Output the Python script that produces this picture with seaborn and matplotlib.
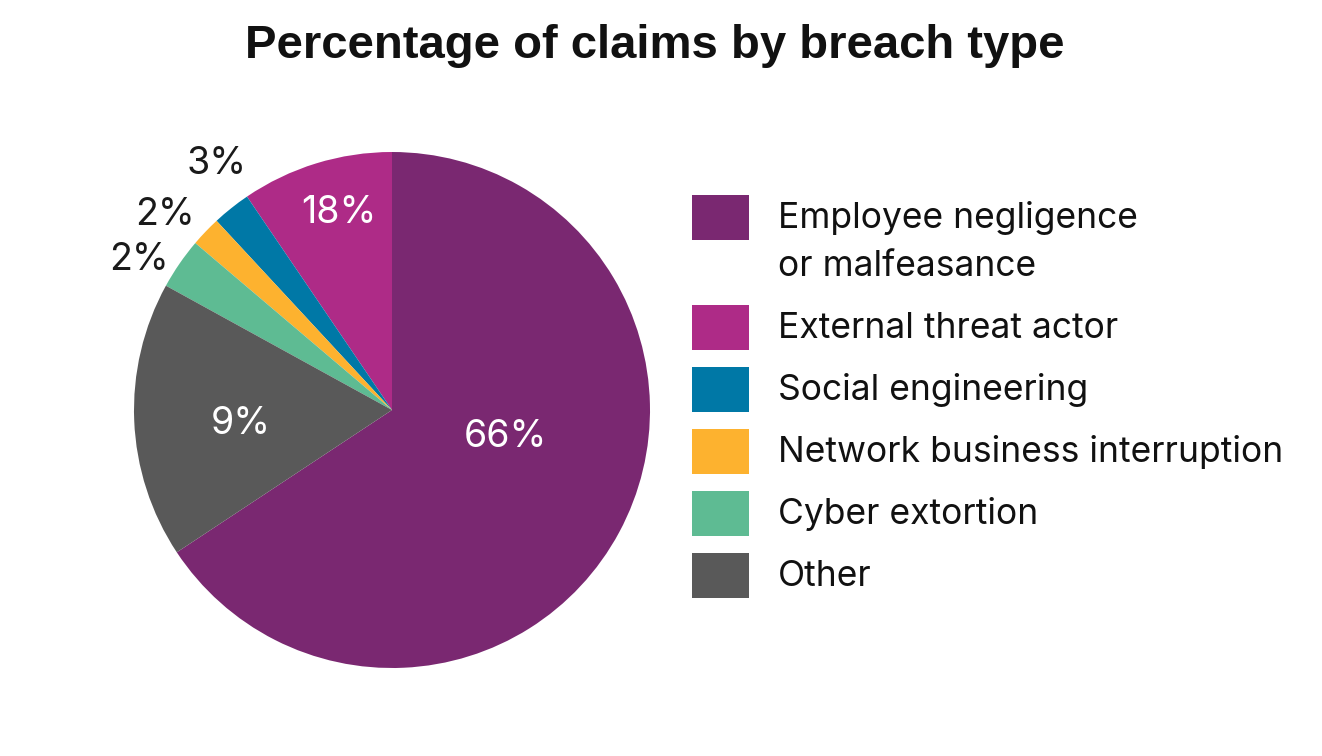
import numpy as np
import matplotlib
matplotlib.use("Agg")
import matplotlib.pyplot as plt
from matplotlib.patches import Rectangle
import seaborn as sns

sns.set_theme(style="white")
plt.rcParams['font.family'] = ['Inter', 'DejaVu Sans']

categories = ["Employee negligence\nor malfeasance", "External threat actor",
              "Social engineering", "Network business interruption",
              "Cyber extortion", "Other"]
# slice sizes as drawn in the picture
shares = [65.7, 9.5, 2.4, 1.9, 3.2, 17.3]
# labels as printed in the picture
pct_labels = ["66%", "18%", "3%", "2%", "2%", "9%"]
colors = ["#7A2871", "#AE2B87", "#0078A6", "#FDB22F", "#5EBB93", "#595959"]

# label layout: radius (fraction of pie radius), angle nudge (deg), text colour
label_r = [0.45, 0.79, 1.17, 1.16, 1.14, 0.59]
label_nudge = [15, -2, -3, 3, 4, 3]
label_col = ["white", "white", "#1a1a1a", "#1a1a1a", "#1a1a1a", "white"]

W, H = 1322, 756
fig = plt.figure(figsize=(W / 100, H / 100), dpi=100)
ax = fig.add_axes([134 / W, (H - 668) / H, 516 / W, 516 / H])

start = 90 - 360 * shares[0] / sum(shares)
wedges, _ = ax.pie(shares, colors=colors, startangle=start, counterclock=True,
                   wedgeprops=dict(linewidth=0))
ax.set_xlim(-1, 1)
ax.set_ylim(-1, 1)
ax.set_aspect("equal")

for w, lab, r, nudge, c in zip(wedges, pct_labels, label_r, label_nudge, label_col):
    mid = np.deg2rad((w.theta1 + w.theta2) / 2 + nudge)
    ax.text(r * np.cos(mid), r * np.sin(mid), lab, ha="center", va="center",
            fontsize=27, color=c)

fig.text(655 / W, 1 - 58 / H, "Percentage of claims by breach type", ha="center",
         va="baseline", fontsize=34, fontweight="bold", color="#111111",
         family=["Liberation Sans", "DejaVu Sans"])

# legend drawn as boxes + text, first line aligned with its box
top = 195
for cat, col in zip(categories, colors):
    fig.patches.append(Rectangle((692 / W, 1 - (top + 45) / H), 57 / W, 45 / H,
                                 transform=fig.transFigure, facecolor=col,
                                 edgecolor="none"))
    lines = cat.split("\n")
    for i, line in enumerate(lines):
        fig.text(778 / W, 1 - (top + 33 + 48 * i) / H, line, ha="left",
                 va="baseline", fontsize=25.5, color="#111111")
    top += 62 + 48 * (len(lines) - 1)

fig.savefig("out.png", dpi=100)
